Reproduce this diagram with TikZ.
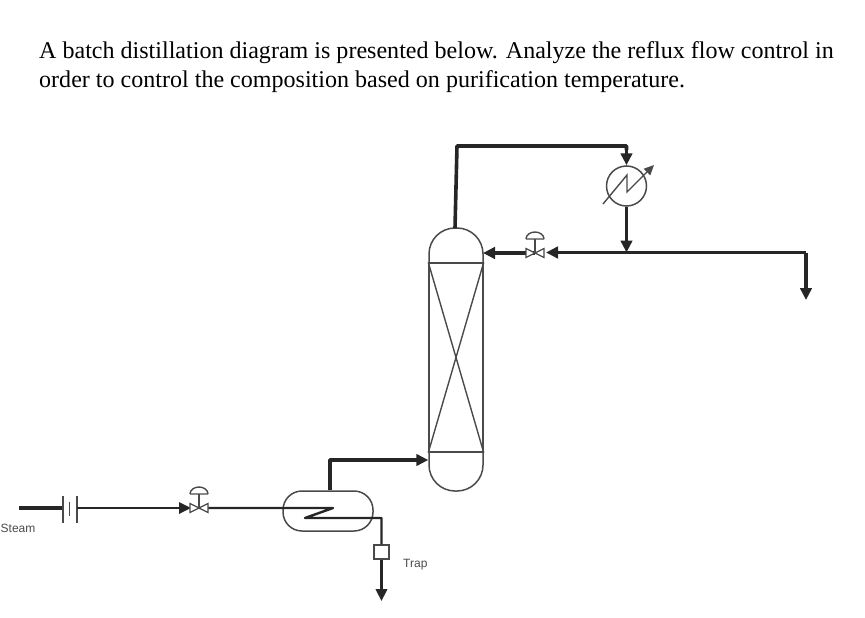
\documentclass[tikz,border=0pt]{standalone}
\usepackage{fontspec}
\setmainfont{Liberation Serif}
\newfontfamily\labelfont{Liberation Sans}
\usetikzlibrary{arrows.meta,calc}
\definecolor{ink}{HTML}{262626}
\definecolor{shell}{HTML}{4A4A4A}
\tikzset{
  x=1pt,y=-1pt,
  shellbox/.style={draw=shell,line width=1.5pt,fill=none,inner sep=0pt},
  thickflow/.style={draw=ink,line width=3.6pt,line join=round},
  thinflow/.style={draw=ink,line width=2.4pt,line join=round},
  tip/.style={-{Triangle[length=12pt,width=11.5pt]}},
  thinline/.style={draw=shell,line width=1.4pt},
  heading/.style={anchor=west,inner sep=0pt,font=\fontsize{24.05}{24.05}\selectfont,text=black},
  tag/.style={inner sep=0pt,font=\labelfont\fontsize{12}{12}\selectfont,text=shell},
  pics/ctrlvalve/.style={code={
    \draw[thinline,line width=1.2pt,fill=white] (-9,-4.5)--(0,0)--(-9,4.5)--cycle;
    \draw[thinline,line width=1.2pt,fill=white] (9,-4.5)--(0,0)--(9,4.5)--cycle;
    \draw[thinline] (0,0)--(0,-14);
    \draw[thinline] (-9,-14)--(9,-14) (-9,-14) arc[start angle=180,end angle=360,x radius=9,y radius=7];
  }}
}
\begin{document}
\begin{tikzpicture}
\useasboundingbox (0,0) rectangle (865,618);
\clip (0,0) rectangle (865,618);
\node[heading] (line1) at (39,53) {A batch distillation diagram is presented below. Analyze the reflux flow control in};
\node[heading] (line2) at (39,82) {order to control the composition based on purification temperature.};

% column
\node[shellbox,minimum width=54pt,minimum height=263pt,rounded corners=26pt] (col) at (456,359.5) {};
\node[shellbox,minimum width=54pt,minimum height=189pt] (packing) at (456,357.5) {};
\draw[thinline] (packing.north west)--(packing.south east) (packing.north east)--(packing.south west);

% condenser
\node[shellbox,circle,minimum size=40pt] (cond) at (626.5,186) {};
\coordinate (cda) at (603,204);
\coordinate (cdb) at (654,165);
\draw[thinline,-{Triangle[length=10pt,width=9pt]}] (cda)--(627,175)--(627,192)--(cdb);

% reboiler
\node[shellbox,minimum width=90pt,minimum height=40pt,rounded corners=19pt] (reb) at (328,511) {};
\node[shellbox,minimum width=15pt,minimum height=14pt,fill=white] (trap) at (381.5,552) {};

% named junctions
\coordinate (vapUpA) at (457,146);
\coordinate (vapUpB) at (626.5,146);
\coordinate (junc) at (626.5,252.5);
\coordinate (cornerR) at (806,252.5);
\coordinate (prod) at (806,300);
\coordinate (rv) at (535,253);
\coordinate (sv) at (199,508);
\coordinate (steamStart) at (19,508);
\coordinate (plateA) at (63,508);
\coordinate (plateB) at (77,508);
\coordinate (coilA) at (333,508);
\coordinate (coilB) at (305,518);
\coordinate (coilC) at (381.5,518);
\coordinate (trapOut) at (381.5,601);
\coordinate (boilA) at (330,460);

% overhead
\draw[thickflow] (455,228)--(vapUpA)--(vapUpB)--(626.5,150);
\draw[thickflow,tip] (vapUpB)--(cond.north);
\draw[thickflow,tip] (cond.south)--(junc);
\draw[thickflow,tip] (cornerR)--(546,252.5);
\draw[thickflow,tip] (cornerR)--(prod);
\draw[thickflow,tip] (rv)--(483,253);
\pic at (rv) {ctrlvalve};

% steam side
\draw[thickflow] (steamStart)--(plateA);
\draw[thinline,line width=1.8pt] (63,496)--(63,523) (77,496)--(77,523) (69.5,502)--(69.5,516);
\draw[thinflow,tip,line width=1.8pt] (plateB)--(191,508);
\draw[thinflow] (sv)--(coilA)--(coilB)--(coilC)--(trap.north);
\pic at (sv) {ctrlvalve};
\draw[thinflow,tip] (trap.south)--(trapOut);

% boil-up
\draw[thickflow,tip] (reb.north -| boilA)--(boilA)--(col.west |- boilA);

% labels
\node[tag,anchor=west] (steamlbl) at (0.5,528) {Steam};
\node[tag,anchor=west] (traplbl) at (403,565) {Trap};
\end{tikzpicture}
\end{document}
